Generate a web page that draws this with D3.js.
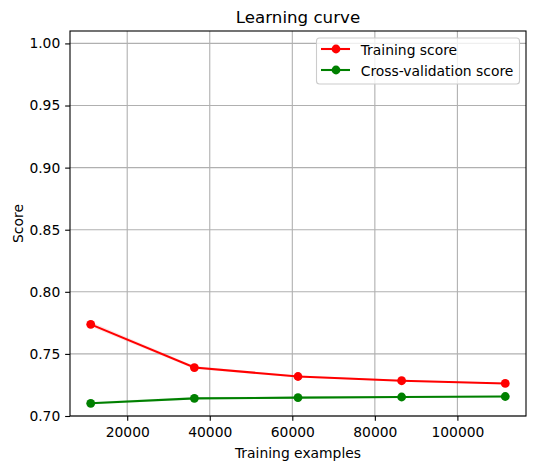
<!DOCTYPE html>
<html><head><meta charset="utf-8">
<script src="https://cdn.jsdelivr.net/npm/d3@7"></script>
<style>
body{margin:0;background:#fff;}
text{font-family:"DejaVu Sans",sans-serif;fill:#000;}
</style></head>
<body><svg id="c" width="555" height="469"></svg>
<script>
const trainSizes = [11160, 36270, 61380, 86490, 111600];
const trainMean = [0.7738, 0.7390, 0.7318, 0.7284, 0.7262];
const trainStd  = [0.0020, 0.0012, 0.0008, 0.0007, 0.0006];
const cvMean    = [0.7102, 0.7142, 0.7148, 0.7153, 0.7157];
const cvStd     = [0.0010, 0.0010, 0.0009, 0.0009, 0.0009];
const xTicks = [20000, 40000, 60000, 80000, 100000];
const yTicks = [0.70, 0.75, 0.80, 0.85, 0.90, 0.95, 1.00];
const seriesNames = ["Training score", "Cross-validation score"];
const seriesColors = ["red", "green"];

const L=70, R=526, T=31, B=416;
const FS = 13.89;
const svg = d3.select("#c");
const x = d3.scaleLinear().domain([6138, 116622]).range([L, R]);
const y = d3.scaleLinear().domain([0.70, 1.01]).range([B, T]);

// grid
svg.append("g").selectAll("line").data(xTicks).join("line")
  .attr("x1", d=>x(d)).attr("x2", d=>x(d)).attr("y1", T).attr("y2", B)
  .attr("stroke", "#b0b0b0").attr("stroke-width", 1.1);
svg.append("g").selectAll("line").data(yTicks).join("line")
  .attr("x1", L).attr("x2", R).attr("y1", d=>y(d)).attr("y2", d=>y(d))
  .attr("stroke", "#b0b0b0").attr("stroke-width", 1.1);

const series = [
  {mean: trainMean, std: trainStd, color: seriesColors[0]},
  {mean: cvMean, std: cvStd, color: seriesColors[1]}
];
const area = d3.area().x(d=>x(d.s)).y0(d=>y(d.m - d.sd)).y1(d=>y(d.m + d.sd));
const line = d3.line().x(d=>x(d.s)).y(d=>y(d.m));
series.forEach(sr => {
  const pts = trainSizes.map((s,i)=>({s, m: sr.mean[i], sd: sr.std[i]}));
  svg.append("path").datum(pts).attr("d", area).attr("fill", sr.color).attr("fill-opacity", 0.1);
});
series.forEach(sr => {
  const pts = trainSizes.map((s,i)=>({s, m: sr.mean[i], sd: sr.std[i]}));
  svg.append("path").datum(pts).attr("d", line).attr("fill", "none")
    .attr("stroke", sr.color).attr("stroke-width", 2.08);
  svg.append("g").selectAll("circle").data(pts).join("circle")
    .attr("cx", d=>x(d.s)).attr("cy", d=>y(d.m)).attr("r", 4.4).attr("fill", sr.color);
});

// axes
const xAxis = d3.axisBottom(x).tickValues(xTicks).tickFormat(d3.format("d")).tickSize(4.86).tickPadding(6.6);
const yAxis = d3.axisLeft(y).tickValues(yTicks).tickFormat(d3.format(".2f")).tickSize(4.86).tickPadding(4.86);
const gx = svg.append("g").attr("transform", `translate(0,${B})`).call(xAxis);
const gy = svg.append("g").attr("transform", `translate(${L},0)`).call(yAxis);
[gx, gy].forEach(g => {
  g.select(".domain").remove();
  g.selectAll("line").attr("stroke", "#000").attr("stroke-width", 1.1);
  g.selectAll("text").attr("font-size", FS).attr("font-family", "DejaVu Sans").attr("fill", "#000");
});
svg.append("rect").attr("x", L).attr("y", T).attr("width", R-L).attr("height", B-T)
  .attr("fill", "none").attr("stroke", "#000").attr("stroke-width", 1.1);

// labels
svg.append("text").attr("x", (L+R)/2).attr("y", 23.3).attr("text-anchor", "middle")
  .attr("font-size", 16.67).text("Learning curve");
svg.append("text").attr("x", (L+R)/2).attr("y", 457.5).attr("text-anchor", "middle")
  .attr("font-size", FS).text("Training examples");
svg.append("text").attr("transform", `translate(22.5,${(T+B)/2}) rotate(-90)`).attr("text-anchor", "middle")
  .attr("font-size", FS).text("Score");

// legend
const lg = svg.append("g");
lg.append("rect").attr("x", 316.5).attr("y", 38).attr("width", 203).attr("height", 46)
  .attr("rx", 3).attr("fill", "#fff").attr("fill-opacity", 0.8).attr("stroke", "#cccccc").attr("stroke-width", 1.1);
seriesNames.forEach((n,i) => {
  const yy = 49 + i*21;
  lg.append("line").attr("x1", 321).attr("x2", 350).attr("y1", yy).attr("y2", yy)
    .attr("stroke", seriesColors[i]).attr("stroke-width", 2.08);
  lg.append("circle").attr("cx", 336).attr("cy", yy).attr("r", 4.4).attr("fill", seriesColors[i]);
  lg.append("text").attr("x", 360.7).attr("y", yy).attr("dy", "0.42em").attr("font-size", FS).text(n);
});
</script></body></html>
